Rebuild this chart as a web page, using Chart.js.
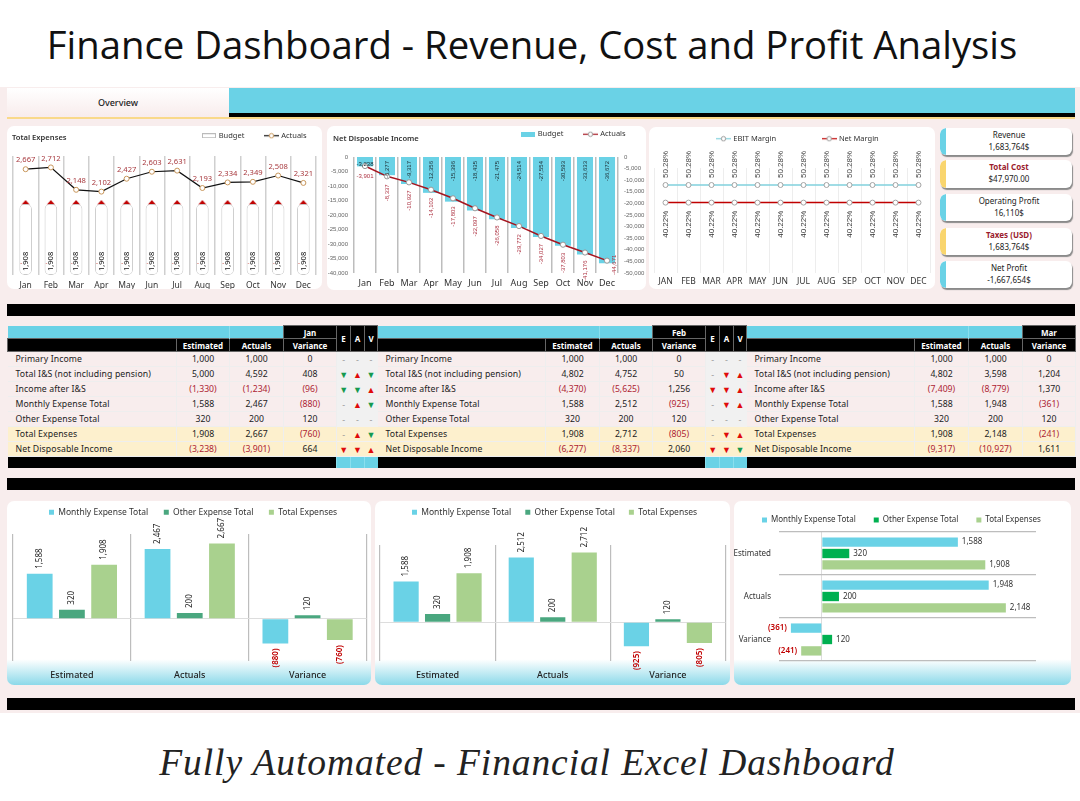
<!DOCTYPE html>
<html>
<head>
<meta charset="utf-8">
<title>Finance Dashboard</title>
<script src="https://cdn.jsdelivr.net/npm/chart.js@4/dist/chart.umd.js"></script>
<style>
  html, body { margin: 0; padding: 0; background: #fff; }
  #page { position: relative; width: 1080px; height: 801px; overflow: hidden; font-family: "Noto Sans", sans-serif; color: #222; }
  #page > * { position: absolute; }
  .title { left: 0; width: 1064px; top: 19px; text-align: center; font-family: "Open Sans"; font-size: 38.3px; line-height: 50px; white-space: nowrap; color: #111; }
  .foot { left: 0; width: 1054px; top: 738px; text-align: center; font-family: "Liberation Serif"; font-style: italic; font-size: 37.5px; line-height: 50px; white-space: nowrap; color: #222; letter-spacing: .9px; }
  .sheet { left: 0; top: 87px; width: 1080px; height: 626px; background: #f8eded; }
  .tab { left: 7px; top: 88px; width: 222px; height: 29px; background: linear-gradient(#fff, #f8ecec); text-align: center; font-size: 9px; font-weight: 500; line-height: 29px; }
  .cyan { background: #6ad2e6; }
  .black { background: #000; }
  .panel { background: #fff; border-radius: 7px; overflow: hidden; }
  .panel canvas { position: absolute; left: 0; top: 0; display: block; }
  .low { background: linear-gradient(#fff 0, #fff 86%, #8bd9e9 100%); }
  .heading { font-size: 7.6px; font-weight: 600; color: #333; white-space: nowrap; line-height: 10px; }
  .card { left: 940px; width: 132px; background: #fff; border-radius: 6px; box-shadow: 1px 2px 1px #8a8a8a; overflow: hidden; text-align: center; font-size: 8px; line-height: 11px; }
  .card i { position: absolute; left: 0; top: 0; bottom: 0; width: 6px; border-radius: 6px 0 0 6px; }
  .card div { position: absolute; left: 6px; right: 0; }
  .hot { color: #9b1c2e; font-weight: 700; }
  table.grid { border-collapse: collapse; table-layout: fixed; font-size: 8.7px; color: #222; }
  table.grid td { padding: 0; text-align: center; white-space: nowrap; overflow: hidden; box-sizing: border-box; }
  td.rowname { text-align: left !important; padding-left: 8px !important; letter-spacing: .1px; border-bottom: 1px solid #eee; }
  td.num { border: 1px solid #eee; }
  td.neg { color: #ad2433; }
  td.head { background: #000; color: #fff; font-weight: 700; border: 1px solid #666; font-size: 8px; }
  td.flag { background: #f1f1f1; font-size: 9px; border-bottom: 1px solid #f1f1f1; }
  tr.sum td { background: #fdf0cd; }
  tr.sum td.flag { background: #fdf0cd; }
  .up { color: #e00b0b; }
  .down { color: #e00b0b; }
  .good { color: #159a4f; }
</style>
</head>
<body>
<div id="page">
  <div class="title">Finance Dashboard - Revenue, Cost and Profit Analysis</div>
  <div class="sheet"></div>
  <div class="tab">Overview</div>
  <div class="cyan" style="left:229px;top:88px;width:846px;height:25px"></div>
  <div class="black" style="left:229px;top:113px;width:846px;height:4px"></div>
  <div style="left:7px;top:117px;width:1068px;height:2px;background:#f9d98a"></div>

  <div class="panel" style="left:7px;top:126px;width:315px;height:163px"><canvas id="expenses" width="315" height="163"></canvas></div>
  <div class="heading" style="left:12px;top:132px">Total Expenses</div>
  <div class="panel" style="left:327px;top:126px;width:319px;height:164px"><canvas id="income" width="319" height="164"></canvas></div>
  <div class="heading" style="left:333px;top:133px">Net Disposable Income</div>
  <div class="panel" style="left:649px;top:127px;width:286px;height:162px"><canvas id="margins" width="286" height="162"></canvas></div>

  <div class="black" style="left:7px;top:304px;width:1068px;height:12px"></div>
  <div class="black" style="left:7px;top:478px;width:1068px;height:12px"></div>
  <div class="black" style="left:7px;top:698px;width:1068px;height:12px"></div>

  <div class="panel low" style="left:7px;top:501px;width:364px;height:184px"><canvas id="janBars" width="364" height="184"></canvas></div>
  <div class="panel low" style="left:375px;top:501px;width:355px;height:184px"><canvas id="febBars" width="355" height="184"></canvas></div>
  <div class="panel low" style="left:734px;top:501px;width:337px;height:184px"><canvas id="marBars" width="337" height="184"></canvas></div>

  <div class="foot">Fully Automated - Financial Excel Dashboard</div>
</div>

<script>
const months = ['Jan', 'Feb', 'Mar', 'Apr', 'May', 'Jun', 'Jul', 'Aug', 'Sep', 'Oct', 'Nov', 'Dec'];
const expenseBudget = [1908, 1908, 1908, 1908, 1908, 1908, 1908, 1908, 1908, 1908, 1908, 1908];
const expenseActual = [2667, 2712, 2148, 2102, 2427, 2603, 2631, 2193, 2334, 2349, 2508, 2321];
const incomeBudget = [-3238, -6277, -9317, -12356, -15396, -18435, -21475, -24514, -27554, -30593, -33633, -36672];
const incomeActual = [-3901, -8337, -10927, -14102, -17803, -22097, -26058, -29772, -34027, -37803, -41176, -44671];
const ebitMargin = [50.28, 50.28, 50.28, 50.28, 50.28, 50.28, 50.28, 50.28, 50.28, 50.28, 50.28, 50.28];
const netMargin = [40.22, 40.22, 40.22, 40.22, 40.22, 40.22, 40.22, 40.22, 40.22, 40.22, 40.22, 40.22];

const groups = ['Estimated', 'Actuals', 'Variance'];
const seriesNames = ['Monthly Expense Total', 'Other Expense Total', 'Total Expenses'];
const janMonthly = [1588, 2467, -880];
const janOther = [320, 200, 120];
const janTotal = [1908, 2667, -760];
const febMonthly = [1588, 2512, -925];
const febOther = [320, 200, 120];
const febTotal = [1908, 2712, -805];
const marMonthly = [1588, 1948, -361];
const marOther = [320, 200, 120];
const marTotal = [1908, 2148, -241];

const rowNames = ['Primary Income', 'Total I&S (not including pension)', 'Income after I&S', 'Monthly Expense Total', 'Other Expense Total', 'Total Expenses', 'Net Disposable Income'];
const janEstimated = [1000, 5000, -1330, 1588, 320, 1908, -3238];
const janActuals = [1000, 4592, -1234, 2467, 200, 2667, -3901];
const janVariance = [0, 408, -96, -880, 120, -760, 664];
const febEstimated = [1000, 4802, -4370, 1588, 320, 1908, -6277];
const febActuals = [1000, 4752, -5625, 2512, 200, 2712, -8337];
const febVariance = [0, 50, 1256, -925, 120, -805, 2060];
const marEstimated = [1000, 4802, -7409, 1588, 320, 1908, -9317];
const marActuals = [1000, 3598, -8779, 1948, 200, 2148, -10927];
const marVariance = [0, 1204, 1370, -361, 120, -241, 1611];
// flags per row: E A V, u red up, d red down, g green down
const janFlags = ['---', 'gug', 'ggu', '-ug', '---', '-ug', 'ddu'];
const febFlags = ['---', '-du', 'ddu', '-du', '---', '-du', 'ddg'];

const kpis = [
  ['Revenue', '1,683,764$', 128, 27, '#6ad2e6', false],
  ['Total Cost', '$47,970.00', 160, 28, '#f9d56e', true],
  ['Operating Profit', '16,110$', 194, 27, '#6ad2e6', false],
  ['Taxes (USD)', '1,683,764$', 228, 27, '#f9d56e', true],
  ['Net Profit', '-1,667,654$', 261, 27, '#6ad2e6', false]
];

const CYAN = '#6ad2e6';
const LEAF = '#a9d18e';
const SANS = 'Noto Sans';
const ARIAL = 'Liberation Sans';
const money = v => v.toLocaleString('en-US');
const paren = v => v < 0 ? '(' + money(-v) + ')' : money(v);

// kpi cards
const page = document.getElementById('page');
kpis.forEach(k => {
  const card = document.createElement('div');
  card.className = 'card';
  card.style.top = k[2] + 'px';
  card.style.height = k[3] + 'px';
  card.innerHTML = '<i style="background:' + k[4] + '"></i>' +
    '<div style="top:1px"' + (k[5] ? ' class="hot"' : '') + '>' + k[0] + '</div>' +
    '<div style="top:13px">' + k[1] + '</div>';
  page.appendChild(card);
});

// month tables
function flagCell(ch) {
  if (ch === 'u') return '<td class="flag up">&#9650;</td>';
  if (ch === 'd') return '<td class="flag down">&#9660;</td>';
  if (ch === 'g') return '<td class="flag good">&#9660;</td>';
  return '<td class="flag" style="color:#999">-</td>';
}
function monthTable(left, widths, name, est, act, vari, flags) {
  const hasFlags = !!flags;
  let html = '<colgroup>' + widths.map(w => '<col style="width:' + w + 'px">').join('') + '</colgroup>';
  html += '<tr style="height:13px"><td class="cyan" colspan="2"></td><td class="cyan" style="border-left:1px solid #8adfee"></td><td class="head" style="font-size:8px">' + name + '</td>';
  if (hasFlags) html += '<td class="head" rowspan="2">E</td><td class="head" rowspan="2">A</td><td class="head" rowspan="2">V</td>';
  html += '</tr><tr style="height:13px"><td class="head"></td><td class="head">Estimated</td><td class="head">Actuals</td><td class="head">Variance</td></tr>';
  rowNames.forEach((r, i) => {
    html += '<tr style="height:15px"' + (i > 4 ? ' class="sum"' : '') + '><td class="rowname">' + r.replace('&', '&amp;') + '</td>';
    [est[i], act[i], vari[i]].forEach(v => { html += '<td class="num' + (v < 0 ? ' neg' : '') + '">' + paren(v) + '</td>'; });
    if (hasFlags) html += flags[i].split('').map(flagCell).join('');
    html += '</tr>';
  });
  html += '<tr style="height:11px"><td class="black" colspan="4"></td>';
  if (hasFlags) html += '<td class="cyan" style="border-left:1px solid #8adfee"></td><td class="cyan" style="border-left:1px solid #8adfee"></td><td class="cyan" style="border-left:1px solid #8adfee"></td>';
  html += '</tr>';
  const t = document.createElement('table');
  t.className = 'grid';
  t.style.left = left + 'px';
  t.style.top = '325px';
  t.style.width = widths.reduce((a, b) => a + b, 0) + 'px';
  t.innerHTML = html;
  page.appendChild(t);
}
monthTable(7, [169, 53, 54, 53, 14, 14, 13], 'Jan', janEstimated, janActuals, janVariance, janFlags);
monthTable(377, [168, 54, 53, 53, 14, 14, 13], 'Feb', febEstimated, febActuals, febVariance, febFlags);
monthTable(746, [168, 54, 54, 53], 'Mar', marEstimated, marActuals, marVariance, null);

// legend sits at a fixed spot and takes no room from the plot
Chart.register({
  id: 'pinLegend',
  beforeLayout(chart) {
    const legend = chart.legend;
    if (legend && !legend.pinned) {
      const fit = legend.fit;
      legend.fit = function () { fit.call(this); this.height = 0; };
      legend.pinned = true;
    }
  },
  afterLayout(chart, args, opts) {
    const legend = chart.legend;
    const pad = legend.options.labels.padding;
    legend.left = opts.x - pad;
    legend.right = 2000;
    legend.top = opts.y - pad;
    legend.bottom = opts.y + 20;
  }
});

// text next to marks, each dataset brings its own pointText function
Chart.register({
  id: 'pointText',
  afterDatasetsDraw(chart) {
    const ctx = chart.ctx;
    chart.data.datasets.forEach((ds, d) => {
      if (!ds.pointText) return;
      chart.getDatasetMeta(d).data.forEach((el, i) => {
        const t = ds.pointText(ds.data[i], i, el, chart);
        if (!t) return;
        ctx.save();
        ctx.translate(t.x, t.y);
        if (t.rotate) ctx.rotate(-Math.PI / 2);
        ctx.font = (t.weight || '400') + ' ' + t.size + 'px "' + (t.family || SANS) + '"';
        ctx.fillStyle = t.color;
        ctx.textAlign = t.align || 'center';
        ctx.textBaseline = 'middle';
        ctx.fillText(t.text, 0, 0);
        ctx.restore();
      });
    });
  }
});

function lineSwatch(line, dot) {
  const c = document.createElement('canvas');
  c.width = 15; c.height = 7;
  const x = c.getContext('2d');
  x.strokeStyle = line; x.lineWidth = 1.2;
  x.beginPath(); x.moveTo(0, 3.5); x.lineTo(15, 3.5); x.stroke();
  x.fillStyle = '#fff'; x.strokeStyle = dot; x.lineWidth = 1;
  x.beginPath(); x.arc(7.5, 3.5, 2.2, 0, 2 * Math.PI); x.fill(); x.stroke();
  return c;
}
function boxSwatch(fill, edge) {
  const c = document.createElement('canvas');
  c.width = 14; c.height = 5;
  const x = c.getContext('2d');
  x.fillStyle = fill; x.fillRect(0, 0, 14, 5);
  if (edge) { x.strokeStyle = edge; x.lineWidth = 1; x.strokeRect(.5, .5, 13, 4); }
  return c;
}
// flat red cap, only the upper half of the sprite is painted so it sits on the point
function capSprite() {
  const c = document.createElement('canvas');
  c.width = 10; c.height = 10;
  const x = c.getContext('2d');
  x.fillStyle = '#c00000';
  x.beginPath(); x.moveTo(1, 5.5); x.lineTo(5, 1); x.lineTo(9, 5.5); x.closePath(); x.fill();
  return c;
}
function swatchLegend(items, x, y, gap, size) {
  return {
    pinLegend: { x: x, y: y },
    legend: {
      align: 'start',
      labels: {
        usePointStyle: true, pointStyleWidth: 12, padding: gap, color: '#333',
        font: { family: SANS, size: size },
        generateLabels: () => items.map(it => ({ text: it[0], pointStyle: it[1], lineWidth: 0, hidden: false, fontColor: '#333' }))
      }
    }
  };
}
const axisHeight = h => s => { s.height = h; };

// Total Expenses
new Chart(document.getElementById('expenses'), {
  type: 'bar',
  data: {
    labels: months,
    datasets: [
      {
        type: 'line', label: 'Actuals', data: expenseActual, yAxisID: 'yActual', order: 1,
        borderColor: '#111', borderWidth: 1.2, tension: 0, pointRadius: 2.5,
        pointBackgroundColor: '#fff', pointBorderColor: '#c8965a', pointBorderWidth: 1,
        pointText: (v, i, el) => ({ text: money(v), x: el.x, y: el.y - 9, size: 7.6, color: '#a83a3f' })
      },
      {
        label: 'Budget', data: expenseBudget, yAxisID: 'yBudget', order: 2,
        backgroundColor: '#fff', borderColor: '#c9c9c9', borderWidth: 1, borderSkipped: false, borderRadius: 5,
        categoryPercentage: 1, barPercentage: 0.5,
        pointText: (v, i, el, chart) => ({ text: money(v), x: el.x, y: chart.chartArea.bottom - 4, rotate: true, align: 'left', size: 7.5, color: '#111' })
      },
      {
        type: 'line', label: 'Cap', data: expenseBudget, yAxisID: 'yBudget', order: 3,
        showLine: false, pointStyle: capSprite(), pointRadius: 5,
        pointText: (v, i, el, chart) => ({ text: '-', x: el.x - 4.5, y: chart.chartArea.bottom - 12, size: 6, color: '#c0392b' })
      }
    ]
  },
  options: {
    responsive: false, animation: false,
    layout: { padding: { left: 1, right: 2, top: 30 } },
    scales: {
      x: { offset: true, grid: { offset: true, color: '#cfcfcf', lineWidth: 1.5, drawTicks: false }, border: { display: false },
        ticks: { color: '#333', padding: 5, maxRotation: 0, font: { family: SANS, size: 8.5 } }, afterFit: axisHeight(14) },
      yActual: { display: false, min: 0, max: 3000 },
      yBudget: { display: false, min: 0, max: 3200 }
    },
    plugins: Object.assign({ tooltip: { enabled: false } }, swatchLegend([['Budget', boxSwatch('#fff', '#bbb')], ['Actuals', lineSwatch('#111', '#c8965a')]], 196, 6, 21, 7.5))
  }
});

// Net Disposable Income
new Chart(document.getElementById('income'), {
  type: 'bar',
  data: {
    labels: months,
    datasets: [
      {
        type: 'line', label: 'Actuals', data: incomeActual, yAxisID: 'yRight', order: 1,
        borderColor: '#a5151f', borderWidth: 1.5, tension: 0, pointRadius: 2.6,
        pointBackgroundColor: '#fff', pointBorderColor: '#999', pointBorderWidth: 1,
        pointText: (v, i, el) => {
          const base = { text: money(v), size: 6, color: '#ad3140', family: ARIAL };
          if (i === 0) return Object.assign(base, { x: el.x, y: el.y + 10 });
          if (i === 11) return Object.assign(base, { x: el.x + 7, y: el.y - 6, rotate: true, align: 'right' });
          return Object.assign(base, { x: el.x, y: el.y + 8, rotate: true, align: 'right' });
        }
      },
      {
        label: 'Budget', data: incomeBudget, yAxisID: 'yLeft', order: 2,
        backgroundColor: CYAN, categoryPercentage: 1, barPercentage: 0.73,
        pointText: (v, i, el, chart) => {
          const base = { text: money(v), size: 6, color: '#1c2b30', family: ARIAL };
          if (i === 0) return Object.assign(base, { x: el.x, y: chart.chartArea.top + 7 });
          return Object.assign(base, { x: el.x, y: chart.chartArea.top + 4, rotate: true, align: 'right' });
        }
      }
    ]
  },
  options: {
    responsive: false, animation: false,
    layout: { padding: { top: 31 } },
    scales: {
      x: { offset: true, grid: { offset: true, color: '#bdbdbd', lineWidth: 1.5, drawTicks: false }, border: { display: false },
        ticks: { color: '#333', padding: 5, maxRotation: 0, autoSkip: false, font: { family: SANS, size: 9 } }, afterFit: axisHeight(17) },
      yLeft: { position: 'left', min: -40000, max: 0, grid: { display: false, drawTicks: false }, border: { display: false },
        ticks: { stepSize: 5000, color: '#666', padding: 6, font: { family: ARIAL, size: 6 }, callback: money }, afterFit: s => { s.width = 27; } },
      yRight: { position: 'right', min: -50000, max: 0, grid: { display: false, drawTicks: false }, border: { display: false },
        ticks: { stepSize: 5000, color: '#666', padding: 6, font: { family: ARIAL, size: 6 }, callback: money }, afterFit: s => { s.width = 28; } }
    },
    plugins: Object.assign({ tooltip: { enabled: false } }, swatchLegend([['Budget', boxSwatch(CYAN)], ['Actuals', lineSwatch('#a5151f', '#999')]], 195, 4.5, 21, 7.5))
  }
});

// EBIT and net margin
new Chart(document.getElementById('margins'), {
  type: 'line',
  data: {
    labels: months.map(m => m.toUpperCase()),
    datasets: [
      {
        label: 'EBIT Margin', data: ebitMargin, borderColor: '#80d0dc', borderWidth: 1.5, tension: 0,
        pointRadius: 2.5, pointBackgroundColor: '#fff', pointBorderColor: '#a3a3a3', pointBorderWidth: 1,
        pointText: (v, i, el) => ({ text: v.toFixed(2) + '%', x: el.x, y: el.y - 7, rotate: true, align: 'left', size: 8, color: '#444', family: ARIAL })
      },
      {
        label: 'Net Margin', data: netMargin, borderColor: '#c00000', borderWidth: 1.5, tension: 0,
        pointRadius: 2.5, pointBackgroundColor: '#fff', pointBorderColor: '#a3a3a3', pointBorderWidth: 1,
        pointText: (v, i, el) => ({ text: v.toFixed(2) + '%', x: el.x, y: el.y + 8, rotate: true, align: 'right', size: 8, color: '#333', family: ARIAL })
      }
    ]
  },
  options: {
    responsive: false, animation: false,
    layout: { padding: { left: 3, right: 5, top: 41 } },
    scales: {
      x: { offset: true, grid: { offset: true, color: '#ededed', drawTicks: false }, border: { display: false },
        ticks: { color: '#333', padding: 3, maxRotation: 0, autoSkip: false, font: { family: SANS, size: 8.5 } }, afterFit: axisHeight(16) },
      y: { display: false, min: 0, max: 60 }
    },
    plugins: Object.assign({ tooltip: { enabled: false } }, swatchLegend([['EBIT Margin', lineSwatch('#80d0dc', '#999')], ['Net Margin', lineSwatch('#c00000', '#999')]], 68.5, 8, 47, 7.5))
  }
});

// grouped columns under the tables
function columnChart(id, monthly, other, total, pad, legendX, legendGap) {
  const label = (v, i, el) => v < 0
    ? { text: paren(v), x: el.x, y: el.y + 5, rotate: true, align: 'right', size: 8, weight: '600', color: '#c00000' }
    : { text: money(v), x: el.x, y: el.y - 5, rotate: true, align: 'left', size: 8, color: '#222' };
  const shared = { categoryPercentage: 0.82, barPercentage: 0.8, pointText: label };
  new Chart(document.getElementById(id), {
    type: 'bar',
    data: {
      labels: groups,
      datasets: [
        Object.assign({ label: seriesNames[0], data: monthly, backgroundColor: CYAN }, shared),
        Object.assign({ label: seriesNames[1], data: other, backgroundColor: '#4aa77f' }, shared),
        Object.assign({ label: seriesNames[2], data: total, backgroundColor: LEAF }, shared)
      ]
    },
    options: {
      responsive: false, animation: false,
      layout: { padding: pad },
      scales: {
        x: { grid: { offset: true, color: '#bdbdbd', lineWidth: 1.2, drawTicks: false }, border: { display: false },
          ticks: { color: '#222', padding: 9, maxRotation: 0, font: { family: SANS, size: 9, weight: '500' } }, afterFit: axisHeight(24) },
        y: { min: -1500, max: 3000, ticks: { display: false, stepSize: 1500 }, border: { display: false },
          grid: { drawTicks: false, color: c => c.tick.value === 0 ? '#ddd' : 'transparent' }, afterFit: s => { s.width = 0; } }
      },
      plugins: {
        tooltip: { enabled: false },
        pinLegend: { x: legendX, y: 7 },
        legend: { align: 'start', labels: { boxWidth: 5, boxHeight: 5, padding: legendGap, color: '#333', font: { family: SANS, size: 8.5 } } }
      }
    }
  });
}
columnChart('janBars', janMonthly, janOther, janTotal, { left: 6, right: 4.5, top: 33 }, 42, 15.5);
columnChart('febBars', febMonthly, febOther, febTotal, { left: 5, right: 4.5, top: 44 }, 37, 14);

// horizontal version for March
const sideLabel = (v, i, el) => v < 0
  ? { text: paren(v), x: el.x - 4, y: el.y, align: 'right', size: 8, weight: '600', color: '#c00000' }
  : { text: money(v), x: el.x + 4, y: el.y, align: 'left', size: 8, color: '#333' };
const sideBar = { categoryPercentage: 0.795, barPercentage: 0.82, pointText: sideLabel };
new Chart(document.getElementById('marBars'), {
  type: 'bar',
  data: {
    labels: groups,
    datasets: [
      Object.assign({ label: seriesNames[0], data: marMonthly, backgroundColor: CYAN }, sideBar),
      Object.assign({ label: seriesNames[1], data: marOther, backgroundColor: '#00b050' }, sideBar),
      Object.assign({ label: seriesNames[2], data: marTotal, backgroundColor: LEAF }, sideBar)
    ]
  },
  options: {
    indexAxis: 'y',
    responsive: false, animation: false,
    layout: { padding: { top: 31, right: 35, bottom: 24 } },
    scales: {
      x: { min: -500, max: 2500, ticks: { display: false, stepSize: 500 }, border: { display: false },
        grid: { drawTicks: false, color: c => c.tick.value === 0 ? '#ddd' : 'transparent' }, afterFit: s => { s.height = 0; } },
      y: { grid: { offset: true, color: '#bdbdbd', lineWidth: 1.2, drawTicks: false }, border: { display: false },
        ticks: { color: '#333', padding: 8, font: { family: SANS, size: 8 } }, afterFit: s => { s.width = 45; } }
    },
    plugins: {
      tooltip: { enabled: false },
      pinLegend: { x: 28, y: 15 },
      legend: { align: 'start', labels: { boxWidth: 5, boxHeight: 5, padding: 18, color: '#333', font: { family: SANS, size: 8 } } }
    }
  }
});
</script>
</body>
</html>
